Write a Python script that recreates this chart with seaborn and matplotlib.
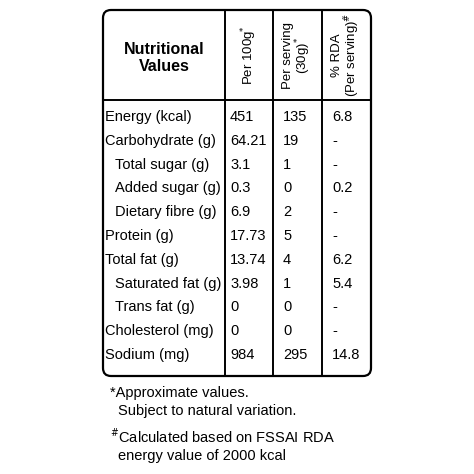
import matplotlib.pyplot as plt
import seaborn as sns
from matplotlib.patches import FancyBboxPatch

sns.set_style("white")
plt.rcParams['font.family'] = ['Liberation Sans Narrow', 'DejaVu Sans Condensed',
                               'Liberation Sans', 'DejaVu Sans']
plt.rcParams['font.stretch'] = 'condensed'
plt.rcParams['text.color'] = 'black'

nutrients = ["Energy (kcal)", "Carbohydrate (g)", "Total sugar (g)", "Added sugar (g)",
             "Dietary fibre (g)", "Protein (g)", "Total fat (g)", "Saturated fat (g)",
             "Trans fat (g)", "Cholesterol (mg)", "Sodium (mg)"]
indented = [False, False, True, True, True, False, False, True, True, False, False]
per_100g = ["451", "64.21", "3.1", "0.3", "6.9", "17.73", "13.74", "3.98", "0", "0", "984"]
per_serving = ["135", "19", "1", "0", "2", "5", "4", "1", "0", "0", "295"]
rda = ["6.8", "-", "-", "0.2", "-", "-", "6.2", "5.4", "-", "-", "14.8"]
col_headers = ["Per 100g$^{*}$", "Per serving\n(30g)$^{*}$", "% RDA\n(Per serving)$^{\\#}$"]

fig = plt.figure(figsize=(4.74, 4.74), dpi=100)
ax = fig.add_axes([0, 0, 1, 1])
ax.set_xlim(0, 474)
ax.set_ylim(474, 0)
ax.axis("off")

left, right, top, bottom = 103, 371, 10, 376
head_y = 100
col_x = [225, 273, 322]
fs = 10.5

ax.add_patch(FancyBboxPatch((left, top), right - left, bottom - top,
                            boxstyle="round,pad=0,rounding_size=8",
                            fill=False, lw=1.6, ec="black"))
ax.plot([left, right], [head_y, head_y], color="black", lw=1.4)
for x in col_x:
    ax.plot([x, x], [top, bottom], color="black", lw=1.4)

ax.text((left + col_x[0]) / 2, 58, "Nutritional\nValues", ha="center", va="center",
        fontsize=11.5, fontweight="bold", linespacing=1.1)
centers = [(col_x[0] + col_x[1]) / 2, (col_x[1] + col_x[2]) / 2, (col_x[2] + right) / 2]
for cx, h in zip(centers, col_headers):
    ax.text(cx, 55, h, rotation=90, ha="center", va="center", fontsize=9.5,
            linespacing=0.95)

row0, step = 117, 23.8
for i, name in enumerate(nutrients):
    y = row0 + i * step
    ax.text(left + (12 if indented[i] else 2), y, name, va="center", fontsize=fs)
    ax.text(col_x[0] + 5, y, per_100g[i], va="center", fontsize=fs)
    ax.text(col_x[1] + 10, y, per_serving[i], va="center", fontsize=fs)
    ax.text(col_x[2] + 10, y, rda[i], va="center", fontsize=fs)

ax.text(110, 393, "*Approximate values.", va="center", fontsize=fs)
ax.text(118, 411, "Subject to natural variation.", va="center", fontsize=fs)
ax.text(110, 437, "$^{\\#}$Calculated based on FSSAI RDA", va="center", fontsize=fs)
ax.text(118, 456, "energy value of 2000 kcal", va="center", fontsize=fs)

fig.savefig("out.png", dpi=100)
